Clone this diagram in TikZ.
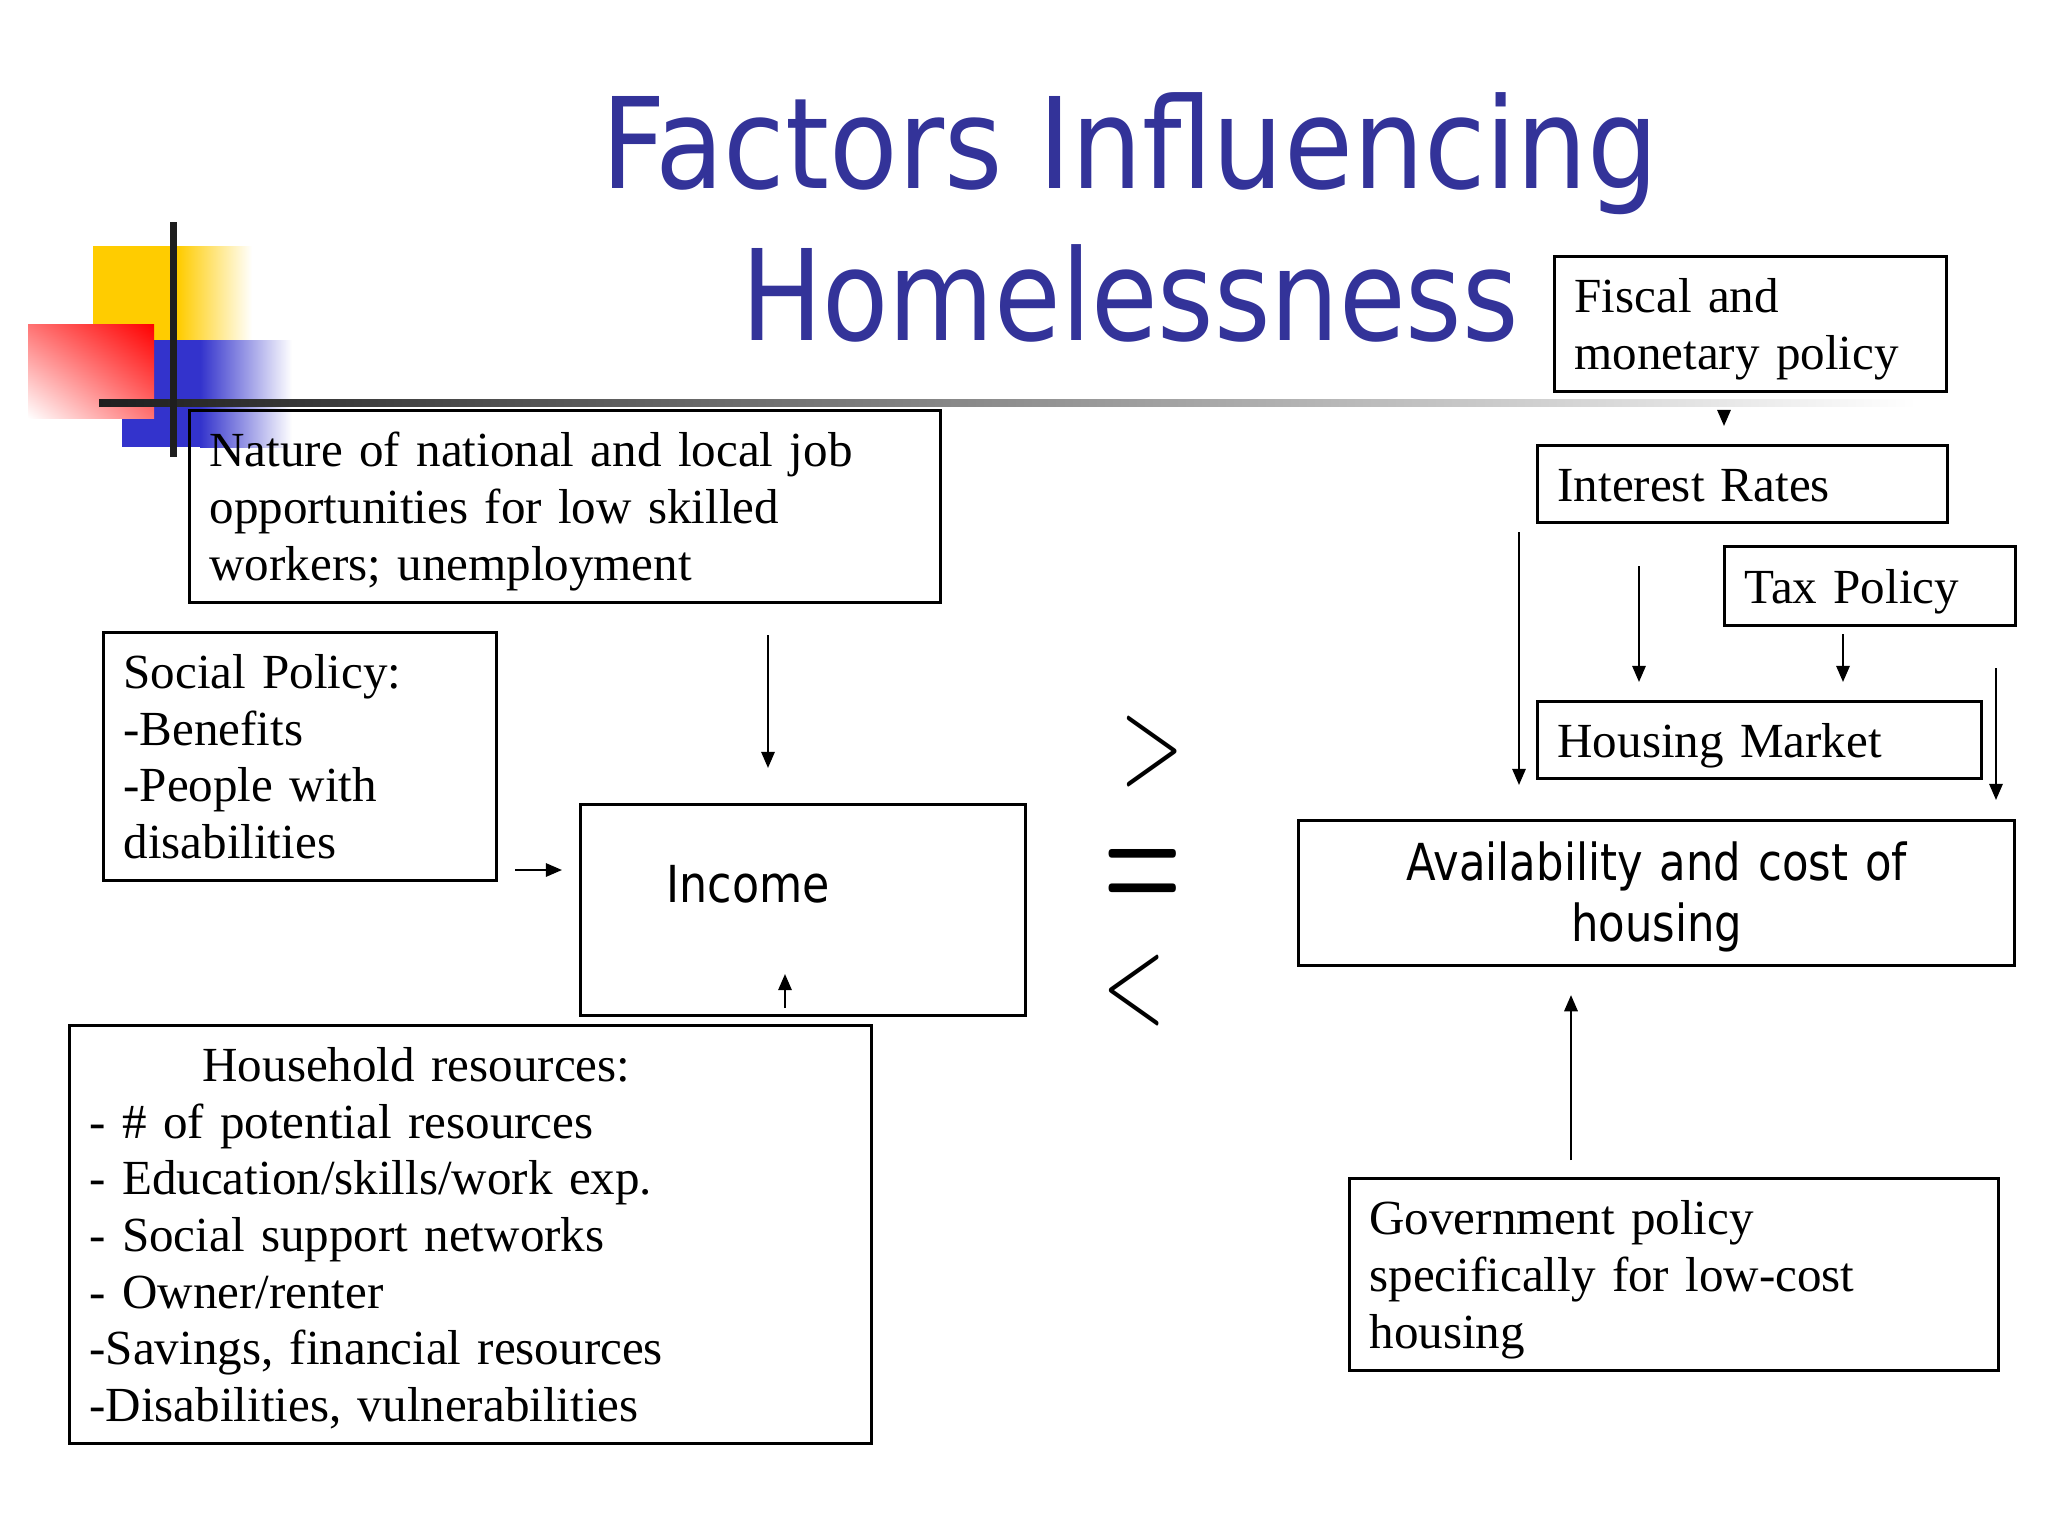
\documentclass[tikz,border=0pt]{standalone}
\usepackage{fontspec}
\usepackage{graphicx}
\usetikzlibrary{arrows.meta,calc,shadings}
\newfontfamily\tnr{Liberation Serif}
\newfontfamily\tah[FakeStretch=0.87]{DejaVu Sans}
\newfontfamily\tahb[FakeStretch=0.85]{DejaVu Sans}
\newfontfamily\titlea[FakeStretch=0.888]{DejaVu Sans}
\newfontfamily\titleb[FakeStretch=0.858]{DejaVu Sans}
\definecolor{titleblue}{RGB}{51,51,153}
\definecolor{logoyellow}{RGB}{255,204,0}
\definecolor{logoblue}{RGB}{51,51,204}
\definecolor{logored}{RGB}{255,0,0}
\definecolor{bardark}{RGB}{30,30,30}
\newcommand\ls{\rule[-0.2\baselineskip]{0pt}{\baselineskip}}
\newcommand\tnrtext{\tnr\fontsize{13.95pt}{16.1pt}\selectfont}
\newcommand\tahtext{\tah\fontsize{14.5pt}{17.36pt}\selectfont}
\newcommand\tahbtext{\tahb\fontsize{14.5pt}{17.36pt}\selectfont}
\newcommand\titletext{\fontsize{35.9pt}{43.2pt}\selectfont}
\newcommand\symfont{\fontsize{36.4pt}{40pt}\selectfont}
\newcommand\eqfont{\fontsize{29pt}{32pt}\selectfont\bfseries}
\newcommand\symrow{\rule[-0.1cm]{0pt}{0.9cm}}
\tikzset{
  box/.style={draw=black, line width=0.85pt, inner xsep=0.2cm, inner ysep=0pt,
    align=left, font=\tnrtext, anchor=north west},
  arr/.style={line width=0.6pt, -{Triangle[length=4.6pt,width=3.8pt]}},
}
\begin{document}
\begin{tikzpicture}[x=0.01cm, y=-0.01cm]
\useasboundingbox (0,0) rectangle (2048,1536);
\fill[white] (0,0) rectangle (2048,1536);

% logo
\fill[logoyellow] (93,246) rectangle (179,340);
\shade[left color=logoyellow, right color=white] (178,246) rectangle (252,340);
\fill[logoblue] (122,340) rectangle (201,447);
\shade[left color=logoblue, right color=white] (200,340) rectangle (292,447);
\shade[upper right=logored, upper left=red!55!white, lower left=white, lower right=red!55!white]
  (28,324) rectangle (154,418);
\shade[left color=bardark, middle color=black!60, right color=white] (99,399) rectangle (1916,406);
\fill[bardark] (170,222) rectangle (177,457);

% title
\node[font=\titletext, text=titleblue, align=center, inner sep=0pt, anchor=north] (title)
  at (1130,66) {\ls{\titlea Factors Influencing}\\\ls{\titleb Homelessness}};

% boxes
\node[box, text width=3.52cm, minimum height=1.35cm] (fiscal) at (1553,255)
  {\ls Fiscal and\\\ls monetary policy};
\node[box, text width=3.70cm, minimum height=0.77cm] (interest) at (1536,444)
  {\ls Interest Rates};
\node[box, text width=2.51cm, minimum height=0.79cm] (tax) at (1723,545)
  {\ls Tax Policy};
\node[box, text width=4.04cm, minimum height=0.77cm] (housing) at (1536,700)
  {\ls Housing Market};
\node[box, text width=6.76cm, minimum height=1.45cm, align=center, font=\tahbtext] (avail) at (1297,819)
  {\ls Availability and cost of\\\ls housing};
\node[box, text width=6.09cm, minimum height=1.92cm] (gov) at (1348,1177)
  {\ls Government policy\\\ls specifically for low-cost\\\ls housing};
\node[box, text width=7.11cm, minimum height=1.92cm] (nature) at (188,409)
  {\ls Nature of national and local job\\\ls opportunities for low skilled\\\ls workers; unemployment};
\node[box, text width=3.53cm, minimum height=2.48cm] (social) at (102,631)
  {\ls Social Policy:\\\ls -Benefits\\\ls -People with\\\ls disabilities};
\node[box, inner xsep=0.86cm, text width=2.73cm, minimum height=2.11cm, font=\tahtext,
  text height=0.35cm, text depth=0.5cm] (income) at (579,803) {Income};
\node[box, text width=7.62cm, minimum height=4.18cm] (household) at (68,1024)
  {\ls\hspace*{1.13cm}Household resources:\\\ls - \# of potential resources\\\ls - Education/skills/work exp.\\\ls - Social support networks\\\ls - Owner/renter\\\ls -Savings, financial resources\\\ls -Disabilities, vulnerabilities};

% comparison symbols (one stacked text)
\node[inner sep=0pt, anchor=north] (cmp) at (1143,702.5) {\vbox{\offinterlineskip
  \hbox to 0pt{\hss\symrow\kern0.19cm{\symfont\scalebox{0.65}[1]{>}}\hss}
  \vskip0.37cm
  \hbox to 0pt{\hss\symrow{\eqfont\scalebox{0.88}[1.55]{=}}\hss}
  \vskip0.22cm
  \hbox to 0pt{\hss\symrow{\symfont\scalebox{0.65}[1]{<}}\kern0.17cm\hss}}};

% arrow positions
\coordinate (xA) at (1724,0);
\coordinate (xB) at (1519,0);
\coordinate (xC) at (1639,0);
\coordinate (xD) at (1843,0);
\coordinate (xE) at (1996,0);
\coordinate (xF) at (768,0);
\coordinate (yG) at (0,870);
\coordinate (xH) at (785,0);
\coordinate (hhtip) at (785,974);
\coordinate (xI) at (1571,0);

\draw[arr, shorten <=0.18cm, shorten >=0.18cm] (fiscal.south -| xA) -- (interest.north -| xA);
\draw[arr, shorten <=0.08cm, shorten >=0.34cm] (interest.south -| xB) -- (avail.north -| xB);
\draw[arr, shorten <=0.42cm, shorten >=0.18cm] (interest.south -| xC) -- (housing.north -| xC);
\draw[arr, shorten <=0.07cm, shorten >=0.18cm] (tax.south -| xD) -- (housing.north -| xD);
\draw[arr, shorten <=0.41cm, shorten >=0.19cm] (tax.south -| xE) -- (avail.north -| xE);
\draw[arr, shorten <=0.31cm, shorten >=0.35cm] (nature.south -| xF) -- (income.north -| xF);
\draw[arr, shorten <=0.17cm, shorten >=0.17cm] (social.east |- yG) -- (income.west |- yG);
\draw[arr, shorten <=0.16cm] (household.north -| xH) -- (hhtip);
\draw[arr, shorten <=0.17cm, shorten >=0.28cm] (gov.north -| xI) -- (avail.south -| xI);
\end{tikzpicture}
\end{document}
